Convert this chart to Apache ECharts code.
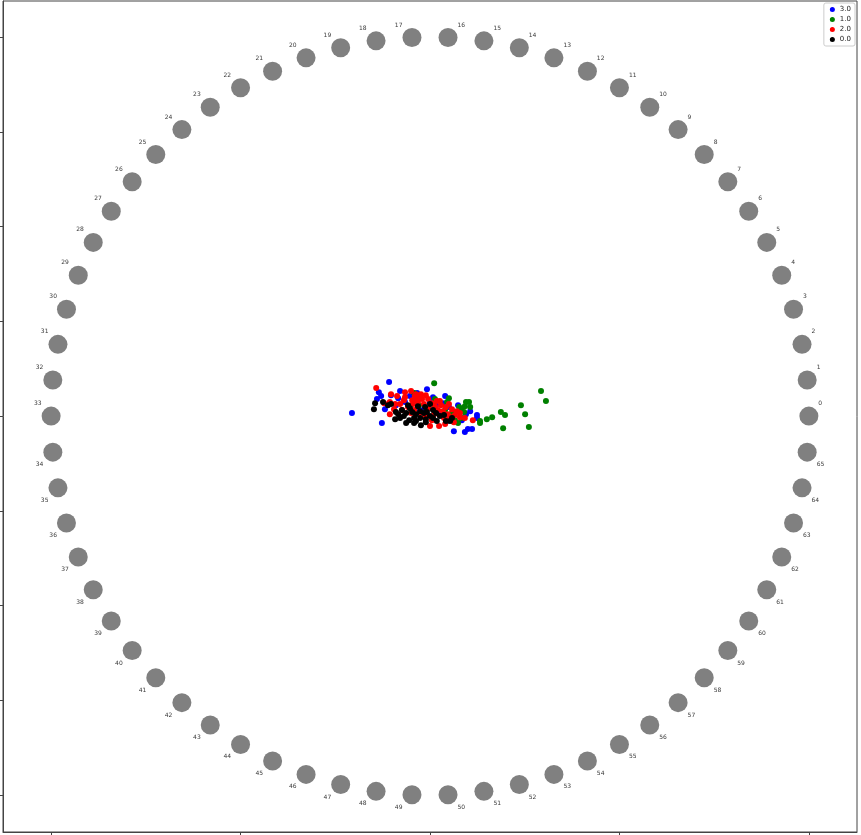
<!DOCTYPE html>
<html><head><meta charset="utf-8">
<script src="https://cdn.jsdelivr.net/npm/echarts@6/dist/echarts.min.js"></script>
<style>html,body{margin:0;padding:0;background:#fff}#c{width:861px;height:835px}</style>
</head><body><div id="c"></div>
<script>
// Anchor (feature) names around the RadViz circle
const anchorLabels = ['0','1','2','3','4','5','6','7','8','9','10','11','12','13','14','15','16','17','18','19','20','21','22','23','24','25','26','27','28','29','30','31','32','33','34','35','36','37','38','39','40','41','42','43','44','45','46','47','48','49','50','51','52','53','54','55','56','57','58','59','60','61','62','63','64','65'];

// Class names (legend order) and colours
const classNames = ['3.0', '1.0', '2.0', '0.0'];
const classColors = ['#0000ff', '#008000', '#ff0000', '#000000'];

// Projected RadViz points per class [x, y]
const class3 = [[-0.206,0.008],[-0.108,0.090],[-0.135,0.063],[-0.129,0.053],[-0.140,0.045],[-0.079,0.066],[-0.127,-0.018],[-0.119,0.018],[-0.103,0.055],[-0.084,0.047],[-0.008,0.071],[-0.034,0.061],[-0.042,0.040],[-0.026,0.047],[0.016,0.029],[0.034,0.034],[0.026,0.011],[0.050,0.024],[0.074,0.029],[0.082,0.016],[0.095,0.005],[0.063,-0.040],[0.092,-0.042],[0.100,-0.034],[0.111,-0.034],[0.124,0.003],[0.124,-0.005],[0.084,-0.011],[0.053,-0.005],[0.000,0.037],[-0.013,0.021],[-0.066,0.037],[-0.090,0.029],[-0.053,0.053],[0.040,0.053],[0.008,0.050],[0.066,0.011],[0.045,-0.013],[0.106,0.013],[-0.026,0.016]];
const class1 = [[0.011,0.087],[0.293,0.066],[0.306,0.040],[0.240,0.029],[0.251,0.005],[0.261,-0.029],[0.193,-0.032],[0.187,0.011],[0.198,0.003],[0.164,-0.003],[0.150,-0.008],[0.132,-0.013],[0.132,-0.018],[0.103,0.037],[0.106,0.024],[0.092,0.026],[0.050,0.047],[-0.042,0.061],[0.013,0.045],[0.077,0.024],[0.082,0.018],[0.090,0.011],[0.066,-0.011],[0.084,-0.005],[0.095,0.037],[0.040,0.016],[0.045,0.037],[0.074,-0.018],[-0.029,0.029],[0.058,0.008]];
const class2 = [[-0.142,0.074],[-0.103,0.058],[-0.087,0.053],[-0.121,0.034],[-0.106,0.005],[-0.106,0.037],[-0.092,0.032],[-0.079,0.032],[-0.050,0.066],[-0.037,0.058],[-0.024,0.058],[-0.047,0.042],[-0.032,0.037],[-0.016,0.032],[-0.005,0.045],[0.005,0.034],[0.018,0.040],[0.029,0.029],[0.042,0.024],[0.058,0.018],[0.071,0.013],[0.066,0.003],[0.047,0.005],[0.034,0.013],[0.021,0.016],[0.000,-0.026],[0.024,-0.026],[0.113,-0.011],[0.063,-0.016],[-0.058,0.024],[-0.042,0.016],[-0.026,0.008],[-0.013,0.000],[0.011,0.005],[0.037,-0.005],[-0.066,0.050],[-0.003,0.021],[-0.021,0.045],[0.013,0.026],[0.050,0.032],[-0.045,0.032],[-0.074,0.016],[-0.034,0.047],[-0.095,0.018],[0.079,-0.003],[-0.069,0.042],[-0.011,0.055],[-0.050,0.008],[0.026,0.040],[0.055,-0.003],[0.005,-0.011],[0.040,-0.021],[0.047,-0.011],[0.079,0.008],[0.092,-0.005],[-0.040,0.053],[-0.066,0.063]];
const class0 = [[-0.145,0.034],[-0.148,0.018],[-0.124,0.037],[-0.111,0.029],[-0.103,0.032],[-0.090,0.011],[-0.084,0.005],[-0.092,-0.008],[-0.074,0.016],[-0.063,0.008],[-0.053,0.021],[-0.069,0.000],[-0.042,-0.005],[-0.055,-0.011],[-0.037,0.005],[-0.026,0.013],[-0.016,0.008],[-0.042,-0.018],[-0.037,-0.013],[-0.026,-0.005],[-0.011,-0.008],[0.000,0.000],[0.008,-0.005],[-0.011,-0.016],[0.018,-0.013],[0.042,-0.013],[0.053,-0.013],[0.058,-0.005],[0.026,0.000],[0.008,0.016],[-0.013,0.024],[-0.032,0.026],[-0.047,0.011],[-0.079,-0.005],[0.000,0.032],[0.016,0.008],[-0.058,0.029],[0.037,0.003],[-0.024,-0.024],[-0.063,-0.018],[-0.008,0.011]];
const classData = [class3, class1, class2, class0];

// Axis tick values
const xTicks = [-1, -0.5, 0, 0.5, 1];
const yTicks = [-1, -0.75, -0.5, -0.25, 0, 0.25, 0.5, 0.75, 1];

const n = anchorLabels.length;
const anchors = anchorLabels.map((name, i) => {
  const a = 2 * Math.PI * i / n;
  return [Math.cos(a), Math.sin(a), name];
});
const off = 0.025;
const labelData = anchors.map(([x, y, name]) => {
  let lx, ly, align, va;
  if (x < 0 && y < 0) { lx = x - off; ly = y - off; align = 'right'; va = 'top'; }
  else if (x < 0 && y >= 0) { lx = x - off; ly = y + off; align = 'right'; va = 'bottom'; }
  else if (x >= 0 && y < 0) { lx = x + off; ly = y - off; align = 'left'; va = 'top'; }
  else { lx = x + off; ly = y + off; align = 'left'; va = 'bottom'; }
  return { value: [lx, ly, name], label: { align: align, verticalAlign: va } };
});

const chart = echarts.init(document.getElementById('c'), null, { renderer: 'canvas' });
const font = 'DejaVu Sans';
const series = classNames.map((nm, k) => ({
  name: nm, type: 'scatter', data: classData[k], symbolSize: 6,
  itemStyle: { color: classColors[k], opacity: 1 }, z: 3, animation: false
}));
series.push({
  name: 'anchors', type: 'scatter', data: anchors.map(a => [a[0], a[1]]), symbolSize: 19,
  itemStyle: { color: '#808080', opacity: 1 }, z: 2, silent: true, animation: false
});
series.push({
  name: 'anchorLabels', type: 'scatter', data: labelData, symbolSize: 1,
  itemStyle: { color: 'rgba(0,0,0,0)' }, z: 4, silent: true, animation: false,
  label: { show: true, position: 'inside', formatter: p => p.value[2], fontSize: 6, fontFamily: font, color: '#000' }
});

chart.setOption({
  animation: false,
  backgroundColor: '#fff',
  grid: { left: 3, right: 4, top: 1, bottom: 3, show: true, borderColor: '#444', borderWidth: 1, backgroundColor: 'transparent' },
  xAxis: {
    type: 'value', min: -1.127, max: 1.127,
    axisLine: { show: true, onZero: false, lineStyle: { color: '#444' } },
    axisTick: { show: true, inside: false, length: 3, customValues: xTicks, lineStyle: { color: '#444' } },
    axisLabel: { show: false, customValues: xTicks },
    splitLine: { show: false }
  },
  yAxis: {
    type: 'value', min: -1.097, max: 1.095,
    axisLine: { show: true, onZero: false, lineStyle: { color: '#444' } },
    axisTick: { show: true, inside: false, length: 3, customValues: yTicks, lineStyle: { color: '#444' } },
    axisLabel: { show: false, customValues: yTicks },
    splitLine: { show: false }
  },
  legend: {
    data: classNames, orient: 'vertical', right: 6, top: 3,
    icon: 'circle', itemWidth: 5, itemHeight: 5, itemGap: 3,
    padding: [3, 4, 3, 6], borderColor: '#ccc', borderWidth: 1, borderRadius: 2, backgroundColor: '#fff',
    textStyle: { fontSize: 7, fontFamily: font, color: '#222' }
  },
  series: series
});
</script></body></html>
